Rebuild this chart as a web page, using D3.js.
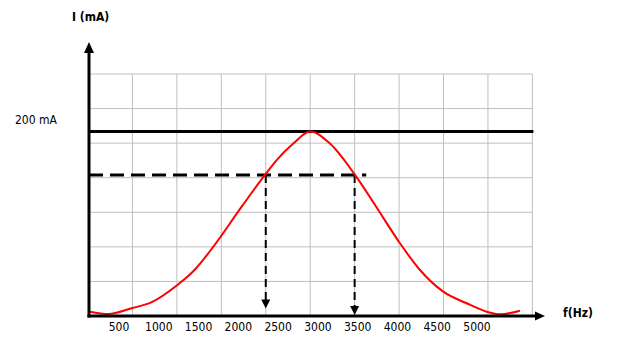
<!DOCTYPE html>
<html>
<head>
<meta charset="utf-8">
<script src="https://cdn.jsdelivr.net/npm/d3@7"></script>
<style>
  body { margin: 0; background: #fff; }
  text { font-family: "DejaVu Sans Condensed", "DejaVu Sans", sans-serif; font-size: 12px; fill: #000; }
</style>
</head>
<body>
<svg id="chart" width="624" height="352"></svg>
<script>
// frequency labels written under the axis
var freqLabels = ["500", "1000", "1500", "2000", "2500", "3000", "3500", "4000", "4500", "5000"];

// resonance curve (Hz, mA)
var curveHz = [522, 728, 992, 1217, 1505, 1704, 1910, 2229, 2491, 2623, 2810, 3000, 3222, 3504, 3692, 3766, 4010, 4235, 4497, 4760, 4985, 5135, 5360];
var curveMA = [4.7, 2.2, 8.4, 15, 33.6, 50.5, 75.2, 118.6, 153, 169, 187, 200, 187, 153, 126, 115, 78.9, 49.9, 26.4, 13.8, 4.7, 1.8, 5.7];

var peakMA = 200;            // solid level line
var halfMA = 153;            // dashed level line
var dashEndHz = 3630;
var bandHz = [2500, 3500];   // dashed arrows down to the axis
var arrowTipMA = [8, 1];

var gridStepHz = 500, gridStepMA = 37.5;
var xMin = 500, xMax = 5500, yMax = 262.5;

var svg = d3.select("#chart");
svg.append("rect").attr("width", 624).attr("height", 352).attr("fill", "#fff");

var x = d3.scaleLinear().domain([xMin, xMax]).range([88, 532.4]);
var y = d3.scaleLinear().domain([0, yMax]).range([316, 74]);

// grid
var g = svg.append("g").attr("stroke", "#bfbfbf").attr("stroke-width", 1);
g.selectAll("line.v").data(d3.range(xMin + gridStepHz, xMax + 1, gridStepHz)).enter().append("line")
    .attr("x1", d => x(d)).attr("x2", d => x(d))
    .attr("y1", y(0)).attr("y2", y(yMax));
g.selectAll("line.h").data(d3.range(gridStepMA, yMax + 1, gridStepMA)).enter().append("line")
    .attr("x1", x(xMin)).attr("x2", x(xMax))
    .attr("y1", d => y(d)).attr("y2", d => y(d));

// solid 200 mA line
svg.append("line")
    .attr("x1", x(xMin)).attr("x2", x(xMax) + 1)
    .attr("y1", y(peakMA)).attr("y2", y(peakMA))
    .attr("stroke", "#000").attr("stroke-width", 3);

// dashed level line
svg.append("line")
    .attr("x1", x(xMin) + 1).attr("x2", x(dashEndHz))
    .attr("y1", y(halfMA)).attr("y2", y(halfMA))
    .attr("stroke", "#000").attr("stroke-width", 3).attr("stroke-dasharray", "14,7");

// dashed arrows down to the frequency axis
bandHz.forEach(function (f, i) {
    var tip = y(arrowTipMA[i]);
    svg.append("line")
        .attr("x1", x(f)).attr("x2", x(f))
        .attr("y1", y(halfMA)).attr("y2", tip - 6)
        .attr("stroke", "#000").attr("stroke-width", 2).attr("stroke-dasharray", "8,5");
    svg.append("path")
        .attr("d", `M${x(f) - 4.5},${tip - 9}L${x(f) + 4.5},${tip - 9}L${x(f)},${tip}Z`)
        .attr("fill", "#000");
});

// red curve
var line = d3.line().x((d, i) => x(curveHz[i])).y(d => y(d)).curve(d3.curveMonotoneX);
svg.append("path").datum(curveMA)
    .attr("d", line)
    .attr("fill", "none").attr("stroke", "#ff0000").attr("stroke-width", 2);

// axes with arrow heads
var ax = x(xMin) + 1, ay = y(0);
svg.append("line").attr("x1", ax).attr("x2", ax).attr("y1", ay + 1.5).attr("y2", 50)
    .attr("stroke", "#000").attr("stroke-width", 3);
svg.append("path").attr("d", `M${ax - 5},53L${ax + 5},53L${ax},42Z`).attr("fill", "#000");
svg.append("line").attr("x1", ax - 1.5).attr("x2", 537).attr("y1", ay).attr("y2", ay)
    .attr("stroke", "#000").attr("stroke-width", 3);
svg.append("path").attr("d", `M535,${ay - 4.5}L535,${ay + 4.5}L545,${ay}Z`).attr("fill", "#000");

// frequency labels (hand placed in the original, roughly even)
var lx = d3.scalePoint().domain(freqLabels).range([119, 477]);
svg.selectAll("text.tick").data(freqLabels).enter().append("text")
    .attr("class", "tick")
    .attr("x", d => lx(d)).attr("y", 331)
    .attr("text-anchor", "middle")
    .text(d => d);

svg.append("text").attr("x", 15).attr("y", 124).text("200  mA");
svg.append("text").attr("x", 72).attr("y", 21).attr("font-weight", "bold").text("I (mA)");
svg.append("text").attr("x", 563).attr("y", 317).attr("font-weight", "bold").text("f(Hz)");
</script>
</body>
</html>
